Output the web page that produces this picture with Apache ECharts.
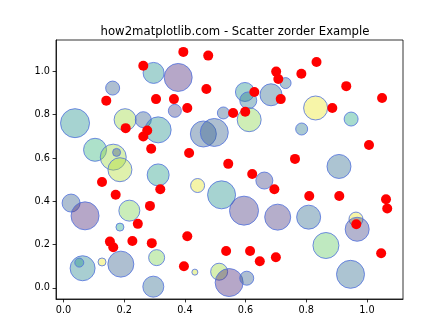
<!DOCTYPE html>
<html>
<head>
<meta charset="utf-8">
<script src="https://cdn.jsdelivr.net/npm/echarts@6/dist/echarts.min.js"></script>
<style>html,body{margin:0;padding:0;background:#fff}#c{width:448px;height:336px}</style>
</head>
<body>
<div id="c"></div>
<script>
// ---- data ----
const titleText = "how2matplotlib.com - Scatter zorder Example";
const xTicks = [0.0, 0.2, 0.4, 0.6, 0.8, 1.0];
const yTicks = [0.0, 0.2, 0.4, 0.6, 0.8, 1.0];

// Background bubbles (viridis colour value, alpha 0.5)
const bubbleX = [0.038,0.162,0.297,0.378,0.203,0.263,0.312,0.104,0.164,0.175,0.186,0.312,0.367,0.598,0.609,0.684,0.732,0.527,0.612,0.461,0.497,0.831,0.948,0.785,0.908,0.025,0.071,0.217,0.186,0.063,0.052,0.127,0.189,0.307,0.296,0.442,0.521,0.595,0.662,0.706,0.433,0.513,0.546,0.604,0.808,0.964,0.968,0.865,0.946];
const bubbleY = [0.761,0.923,0.993,0.972,0.777,0.777,0.730,0.638,0.604,0.626,0.546,0.522,0.818,0.905,0.866,0.892,0.946,0.808,0.777,0.711,0.718,0.831,0.780,0.734,0.561,0.392,0.333,0.357,0.281,0.091,0.117,0.120,0.110,0.140,0.006,0.473,0.430,0.357,0.496,0.327,0.073,0.075,0.025,0.045,0.327,0.318,0.271,0.196,0.063];
const bubbleSize = [30,15,22,29,23,17,27,24,27,9,25,23,14,20,18,23,12,13,25,27,29,25,15,13,25,19,29,22,9,26,10,9,27,17,22,15,29,30,18,27,7,18,29,15,25,15,25,27,29];
const bubbleColor = [0.5,0.3,0.5,0.1,0.85,0.3,0.5,0.65,0.85,0.25,0.88,0.55,0.2,0.5,0.4,0.35,0.35,0.3,0.82,0.3,0.3,0.97,0.6,0.4,0.35,0.3,0.1,0.8,0.6,0.45,0.5,0.97,0.3,0.8,0.35,0.96,0.5,0.15,0.2,0.15,0.92,0.85,0.1,0.3,0.35,0.97,0.2,0.75,0.35];

// Foreground red points
const redX = [0.263,0.395,0.477,0.834,0.784,0.701,0.708,0.932,0.471,0.629,0.141,0.305,0.364,0.716,1.050,0.408,0.559,0.599,0.886,0.205,0.276,0.263,0.289,1.007,0.414,0.763,0.543,0.622,0.127,0.319,0.695,0.172,0.810,0.909,1.063,0.285,1.067,0.965,0.245,0.408,0.153,0.164,0.227,0.291,0.536,0.615,0.647,0.700,0.397,1.047];
const redY = [1.026,1.090,1.073,1.043,0.989,0.999,0.965,0.932,0.919,0.905,0.865,0.872,0.872,0.872,0.877,0.831,0.808,0.814,0.831,0.738,0.727,0.699,0.643,0.660,0.623,0.596,0.573,0.526,0.489,0.456,0.456,0.430,0.425,0.425,0.410,0.379,0.367,0.294,0.296,0.239,0.214,0.188,0.217,0.207,0.171,0.171,0.123,0.142,0.100,0.160];

// ---- colour map ----
const viridisStops = ["#440154","#482475","#414487","#355f8d","#2a788e","#21918c","#22a884","#44bf70","#7ad151","#bddf26","#fde725"];
function hexRgb(h){return [parseInt(h.substr(1,2),16),parseInt(h.substr(3,2),16),parseInt(h.substr(5,2),16)];}
function viridis(t, a){
  t = Math.max(0, Math.min(1, t));
  const p = t * (viridisStops.length - 1);
  const i = Math.min(Math.floor(p), viridisStops.length - 2);
  const f = p - i;
  const c0 = hexRgb(viridisStops[i]), c1 = hexRgb(viridisStops[i+1]);
  const c = c0.map((v,k)=>Math.round(v + (c1[k]-v)*f));
  return `rgba(${c[0]},${c[1]},${c[2]},${a})`;
}

const font = "DejaVu Sans";
const chart = echarts.init(document.getElementById('c'), null, {renderer:'canvas'});
chart.setOption({
  animation: false,
  backgroundColor: '#fff',
  title: {
    text: titleText, left: 230, top: 21, textAlign: 'center',
    textStyle: {fontFamily: font, fontSize: 11.7, fontWeight: 'normal', color: '#000'}
  },
  grid: {left: 56, right: 45, top: 40, bottom: 37, show: true, borderColor: '#000', borderWidth: 0.8, backgroundColor: 'transparent'},
  xAxis: {
    type: 'value', min: -0.0247, max: 1.119,
    splitLine: {show: false},
    axisLine: {show: true, onZero: false, lineStyle: {color: '#000', width: 0.8}},
    axisTick: {show: true, length: 3.4, lineStyle: {color: '#000', width: 0.8}, customValues: xTicks},
    axisLabel: {customValues: xTicks, margin: 6, formatter: v => Number(v).toFixed(1), fontFamily: font, fontSize: 9.7, color: '#000'}
  },
  yAxis: {
    type: 'value', min: -0.051, max: 1.145,
    splitLine: {show: false},
    axisLine: {show: true, onZero: false, lineStyle: {color: '#000', width: 0.8}},
    axisTick: {show: true, length: 3.4, lineStyle: {color: '#000', width: 0.8}, customValues: yTicks},
    axisLabel: {customValues: yTicks, margin: 6, formatter: v => Number(v).toFixed(1), fontFamily: font, fontSize: 9.7, color: '#000'}
  },
  series: [
    {
      type: 'scatter', z: 2,
      data: bubbleX.map((x,i)=>[x, bubbleY[i], bubbleSize[i], bubbleColor[i]]),
      symbolSize: v => Math.max(v[2] - 1, 2),
      itemStyle: {
        color: p => viridis(p.data[3], 0.5),
        borderColor: p => viridis(p.data[3], 0.5),
        borderWidth: 1
      },
      emphasis: {disabled: true}
    },
    {
      type: 'scatter', z: 3,
      data: redX.map((x,i)=>[x, redY[i]]),
      symbolSize: 10,
      itemStyle: {color: '#ff0000', opacity: 1},
      emphasis: {disabled: true}
    }
  ]
});
</script>
</body>
</html>
